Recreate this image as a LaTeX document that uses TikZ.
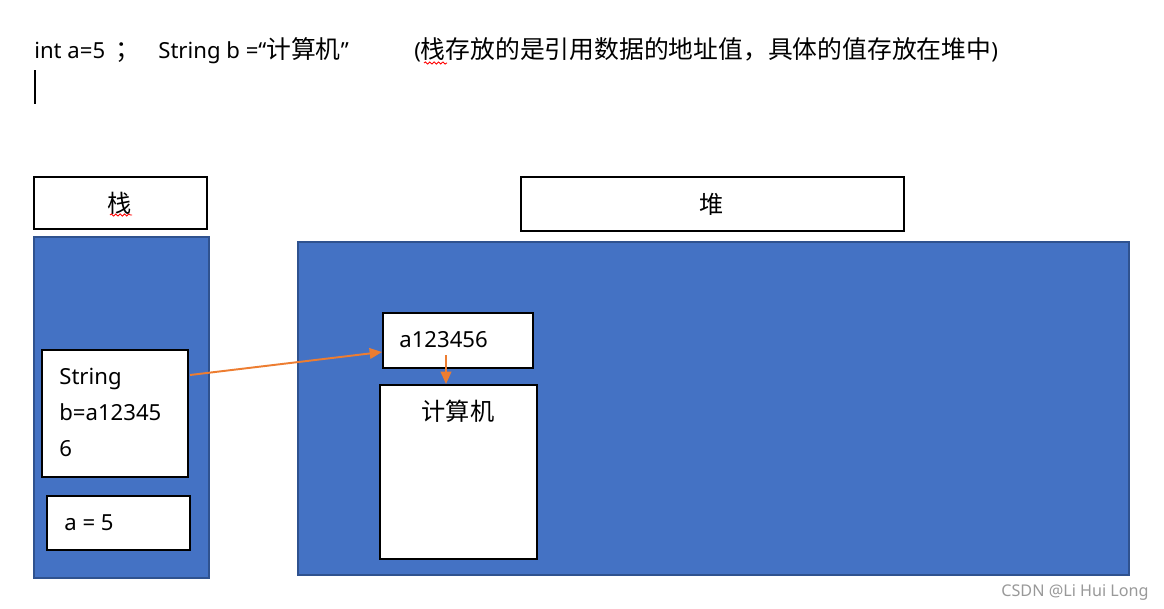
\documentclass[tikz,border=0pt]{standalone}
\usepackage{fontspec}
\setmainfont{Noto Sans}
\newfontfamily\cjk[Scale=1.12]{Noto Sans CJK SC}
\usetikzlibrary{arrows.meta,decorations.pathmorphing}
\definecolor{blueF}{HTML}{4472C4}
\definecolor{blueD}{HTML}{2F528F}
\definecolor{orangeA}{HTML}{ED7D31}
\begin{document}
\begin{tikzpicture}[x=0.02cm,y=-0.02cm,
  wbox/.style={draw=black,line width=1.2pt,fill=white},
  bluebox/.style={draw=blueD,line width=1pt,fill=blueF},
  txt/.style={font=\fontsize{12.6}{15}\selectfont,inner sep=0pt,anchor=base west},
  ctxt/.style={font=\fontsize{12.3}{15}\selectfont\cjk,inner sep=0pt},
  oarrow/.style={draw=orangeA,line width=1.1pt,-{Triangle[length=7pt,width=6pt]}},
  squiggle/.style={draw=red,line width=0.5pt,decorate,decoration={snake,amplitude=0.6pt,segment length=2.5pt}}]
\useasboundingbox[fill=white] (0,0) rectangle (1164,609);
% top text
\node[txt] (code1) at (34,58) {int a=5};
\node[txt] (semi) at (115,58) {\cjk ；};
\node[txt] (code2) at (158,58) {String b =“{\cjk 计算机}”};
\node[txt] (note) at (414,58) {({\cjk 栈存放的是引用数据的地址值，具体的值存放在堆中})};
\draw[squiggle] (424,63) -- (447,63);
\draw[line width=0.8pt] (35,70) -- (35,104);
% labels
\draw[wbox] (34,177) rectangle (207,229);
\node[ctxt] (stackl) at (120,203) {栈};
\draw[squiggle] (110,215) -- (132,215);
\draw[wbox] (521,177) rectangle (904,231);
\node[ctxt] (heapl) at (712,204) {堆};
% blue areas
\draw[bluebox] (34,237) rectangle (209,578);
\draw[bluebox] (298,242) rectangle (1129,575);
% stack boxes
\node[wbox,minimum width=146*0.02cm,minimum height=127*0.02cm,anchor=north west,inner sep=0pt] (sb) at (41,349) {};
\node[txt] at (59,384) {String};
\node[txt] at (59,420) {b=a12345};
\node[txt] at (59,456) {6};
\node[wbox,minimum width=143*0.02cm,minimum height=54*0.02cm,anchor=north west,inner sep=0pt] (ab) at (46,495) {};
\node[txt] at (64,530) {a\ =\ 5};
% heap boxes
\node[wbox,minimum width=150*0.02cm,minimum height=55*0.02cm,anchor=north west,inner sep=0pt] (addr) at (382,312) {};
\node[txt] at (399,347) {a123456};
\node[wbox,minimum width=157*0.02cm,minimum height=174*0.02cm,anchor=north west,inner sep=0pt] (obj) at (379,384) {};
\node[ctxt] (objt) at (458,411) {计算机};
% arrows
\coordinate (s1) at (190,375);
\coordinate (e1) at (382,352);
\draw[oarrow] (s1) -- (e1);
\coordinate (s2) at (446,355);
\draw[oarrow] (s2) -- (obj.north -| s2);
% watermark
\node[font=\fontsize{9.2}{11}\selectfont,text=gray!80,anchor=base east,inner sep=0pt] (wm) at (1149,596) {CSDN @Li Hui Long};
\end{tikzpicture}
\end{document}
